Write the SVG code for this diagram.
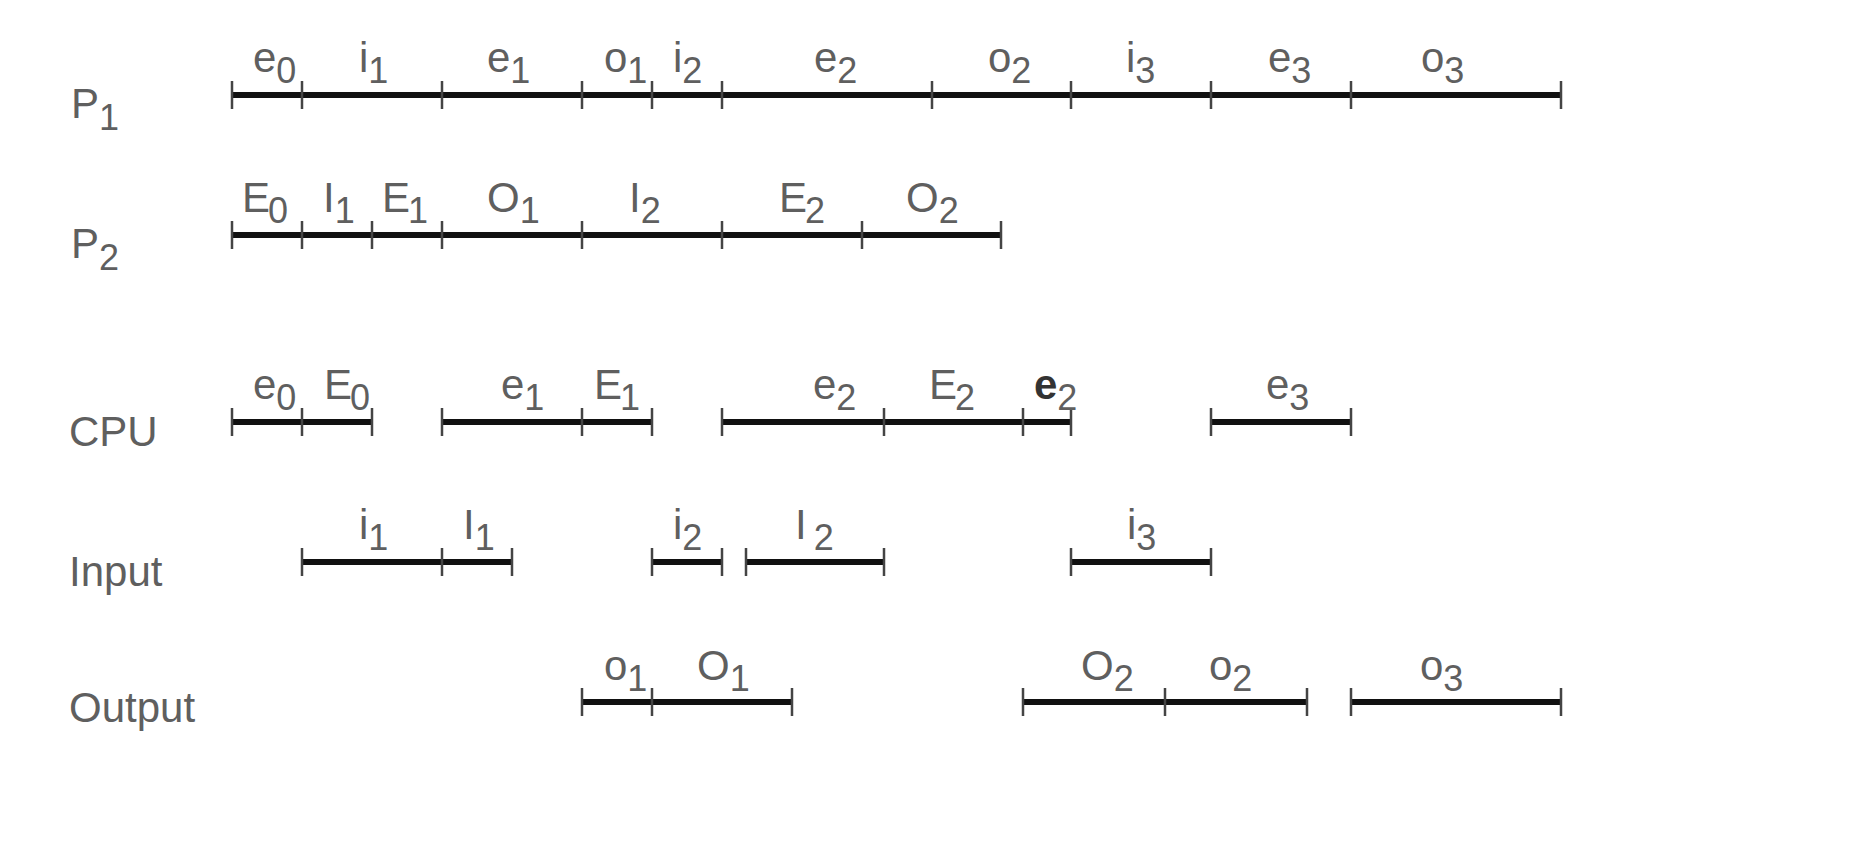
<svg xmlns="http://www.w3.org/2000/svg" width="1856" height="846" viewBox="0 0 1856 846">
<style>
.bg{fill:#ffffff}
.bar{stroke:#111;stroke-width:6;fill:none}
.tk{stroke:#444;stroke-width:2.5;fill:none}
.lab{font-family:"Liberation Sans",Arial,sans-serif;font-size:42px;fill:#5f5f5f}
.s{font-size:36px}
.b{font-weight:bold;fill:#333}
</style>
<rect class="bg" x="0" y="0" width="1856" height="846"/>
<g id="row-labels">
<text class="lab" x="71" y="118">P<tspan class="s" dy="12">1</tspan></text>
<text class="lab" x="71" y="258">P<tspan class="s" dy="12">2</tspan></text>
<text class="lab" x="69" y="446">CPU</text>
<text class="lab" x="69" y="586">Input</text>
<text class="lab" x="69" y="722">Output</text>
</g>
<g id="connectors">
<g id="P1-bars">
<path class="bar" d="M232 95H1561"/>
<path class="tk" d="M232 81V109M302 81V109M442 81V109M582 81V109M652 81V109M722 81V109M932 81V109M1071 81V109M1211 81V109M1351 81V109M1561 81V109"/>
</g>
<g id="P2-bars">
<path class="bar" d="M232 235H1001"/>
<path class="tk" d="M232 221V249M302 221V249M372 221V249M442 221V249M582 221V249M722 221V249M862 221V249M1001 221V249"/>
</g>
<g id="CPU-bars">
<path class="bar" d="M232 422H372M442 422H652M722 422H1071M1211 422H1351"/>
<path class="tk" d="M232 408V436M302 408V436M372 408V436M442 408V436M582 408V436M652 408V436M722 408V436M884 408V436M1023 408V436M1071 408V436M1211 408V436M1351 408V436"/>
</g>
<g id="Input-bars">
<path class="bar" d="M302 562H512M652 562H722M746 562H884M1071 562H1211"/>
<path class="tk" d="M302 548V576M442 548V576M512 548V576M652 548V576M722 548V576M746 548V576M884 548V576M1071 548V576M1211 548V576"/>
</g>
<g id="Output-bars">
<path class="bar" d="M582 702H792M1023 702H1307M1351 702H1561"/>
<path class="tk" d="M582 688V716M652 688V716M792 688V716M1023 688V716M1165 688V716M1307 688V716M1351 688V716M1561 688V716"/>
</g>
</g>
<g id="P1">
<text class="lab" x="253" y="72">e<tspan class="s" dy="11">0</tspan></text>
<text class="lab" x="359" y="72">i<tspan class="s" dy="11">1</tspan></text>
<text class="lab" x="487" y="72">e<tspan class="s" dy="11">1</tspan></text>
<text class="lab" x="604" y="72">o<tspan class="s" dy="11">1</tspan></text>
<text class="lab" x="673" y="72">i<tspan class="s" dy="11">2</tspan></text>
<text class="lab" x="814" y="72">e<tspan class="s" dy="11">2</tspan></text>
<text class="lab" x="988" y="72">o<tspan class="s" dy="11">2</tspan></text>
<text class="lab" x="1126" y="72">i<tspan class="s" dy="11">3</tspan></text>
<text class="lab" x="1268" y="72">e<tspan class="s" dy="11">3</tspan></text>
<text class="lab" x="1421" y="72">o<tspan class="s" dy="11">3</tspan></text>
</g>
<g id="P2">
<text class="lab" x="242" y="212">E<tspan class="s" dx="-2" dy="11">0</tspan></text>
<text class="lab" x="323" y="212">I<tspan class="s" dy="11">1</tspan></text>
<text class="lab" x="382" y="212">E<tspan class="s" dx="-2" dy="11">1</tspan></text>
<text class="lab" x="487" y="212">O<tspan class="s" dy="11">1</tspan></text>
<text class="lab" x="629" y="212">I<tspan class="s" dy="11">2</tspan></text>
<text class="lab" x="779" y="212">E<tspan class="s" dx="-2" dy="11">2</tspan></text>
<text class="lab" x="906" y="212">O<tspan class="s" dy="11">2</tspan></text>
</g>
<g id="CPU">
<text class="lab" x="253" y="399">e<tspan class="s" dy="11">0</tspan></text>
<text class="lab" x="324" y="399">E<tspan class="s" dx="-2" dy="11">0</tspan></text>
<text class="lab" x="501" y="399">e<tspan class="s" dy="11">1</tspan></text>
<text class="lab" x="594" y="399">E<tspan class="s" dx="-2" dy="11">1</tspan></text>
<text class="lab" x="813" y="399">e<tspan class="s" dy="11">2</tspan></text>
<text class="lab" x="929" y="399">E<tspan class="s" dx="-2" dy="11">2</tspan></text>
<text class="lab" x="1034" y="399"><tspan class="b">e</tspan><tspan class="s" dy="11">2</tspan></text>
<text class="lab" x="1266" y="399">e<tspan class="s" dy="11">3</tspan></text>
</g>
<g id="Input">
<text class="lab" x="359" y="539">i<tspan class="s" dy="11">1</tspan></text>
<text class="lab" x="463" y="539">I<tspan class="s" dy="11">1</tspan></text>
<text class="lab" x="673" y="539">i<tspan class="s" dy="11">2</tspan></text>
<text class="lab" x="795" y="539">I<tspan class="s" dx="7" dy="11">2</tspan></text>
<text class="lab" x="1127" y="539">i<tspan class="s" dy="11">3</tspan></text>
</g>
<g id="Output">
<text class="lab" x="604" y="680">o<tspan class="s" dy="11">1</tspan></text>
<text class="lab" x="697" y="680">O<tspan class="s" dy="11">1</tspan></text>
<text class="lab" x="1081" y="680">O<tspan class="s" dy="11">2</tspan></text>
<text class="lab" x="1209" y="680">o<tspan class="s" dy="11">2</tspan></text>
<text class="lab" x="1420" y="680">o<tspan class="s" dy="11">3</tspan></text>
</g>
</svg>
